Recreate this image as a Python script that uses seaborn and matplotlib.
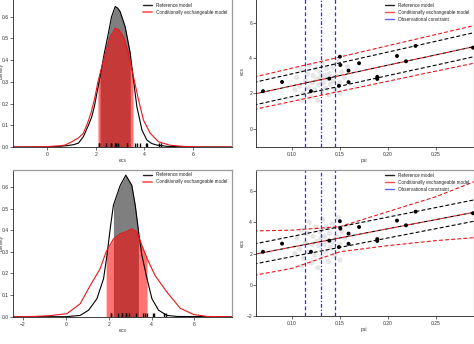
import numpy as np
import pandas as pd
import matplotlib
matplotlib.use("Agg")
import matplotlib.pyplot as plt
import seaborn as sns
from matplotlib.lines import Line2D

sns.set_theme(style="white")
plt.rcParams["font.family"] = ["Liberation Sans", "DejaVu Sans"]

# ---- model ensemble (psi, ecs) ----
model_psi = [0.0697, 0.0896, 0.1198, 0.139, 0.150, 0.1505, 0.149, 0.159,
             0.159, 0.170, 0.189, 0.189, 0.2096, 0.219, 0.229, 0.289]
model_ecs = [2.12, 2.64, 2.12, 2.83, 4.07, 3.60, 2.42, 3.28,
             2.63, 3.70, 2.93, 2.81, 4.11, 3.81, 4.68, 4.58]

# observational constraint on psi (lower, best, upper)
obs_psi = [0.114, 0.130, 0.145]

# posterior draws around the constraint (upper and lower rows)
cloud_psi = [0.105, 0.108, 0.110, 0.112, 0.114, 0.116, 0.117, 0.118, 0.120, 0.121,
             0.122, 0.124, 0.125, 0.126, 0.127, 0.128, 0.129, 0.130, 0.131, 0.132,
             0.133, 0.134, 0.135, 0.136, 0.137, 0.138, 0.139, 0.140, 0.142, 0.143,
             0.145, 0.146, 0.148, 0.150, 0.152, 0.155, 0.158, 0.103, 0.110, 0.150]
cloud_ecs_top = [2.9, 2.4, 3.3, 2.0, 2.7, 3.1, 2.3, 3.6, 1.8, 2.6,
                 3.0, 2.2, 3.4, 2.8, 1.6, 2.5, 3.2, 2.9, 2.1, 3.7,
                 2.6, 3.0, 2.3, 3.4, 2.8, 1.9, 3.1, 2.5, 3.5, 2.7,
                 2.2, 3.0, 3.8, 2.6, 3.2, 2.9, 3.5, 2.2, 1.6, 2.0]
cloud_ecs_bot = [3.0, 2.3, 3.5, 1.7, 2.7, 3.3, 2.1, 4.0, 1.4, 2.6,
                 3.1, 1.9, 3.7, 2.8, 1.1, 2.5, 3.4, 3.0, 1.8, 4.2,
                 2.6, 3.1, 2.1, 3.7, 2.8, 1.5, 3.3, 2.4, 3.9, 2.7,
                 1.9, 3.1, 4.3, 2.6, 3.4, 3.0, 3.8, 2.0, 1.2, 1.6]

# ---- posterior ecs densities, upper row ----
top_ref_x = [-1.5, -0.5, 0.0, 0.5, 0.81, 1.1, 1.29, 1.49, 1.70, 1.84, 1.95, 2.05,
             2.18, 2.35, 2.52, 2.65, 2.80, 2.90, 3.0, 3.21, 3.42, 3.55, 3.69,
             3.90, 4.10, 4.30, 4.51, 4.93, 5.5, 6.0, 7.8]
top_ref_y = [0, 0, 0.001, 0.003, 0.006, 0.011, 0.018, 0.047, 0.10, 0.14, 0.19, 0.25,
             0.324, 0.43, 0.524, 0.60, 0.647, 0.64, 0.624, 0.554, 0.43, 0.31, 0.186,
             0.078, 0.032, 0.016, 0.009, 0.003, 0.001, 0, 0]
top_ce_x = [-1.5, -0.5, 0.0, 0.5, 0.74, 1.02, 1.15, 1.29, 1.49, 1.66, 1.80, 1.95,
            2.09, 2.32, 2.59, 2.80, 2.95, 3.14, 3.35, 3.55, 3.76, 3.96, 4.24,
            4.58, 5.06, 5.7, 6.5, 7.8]
top_ce_y = [0, 0.001, 0.002, 0.005, 0.009, 0.024, 0.033, 0.042, 0.063, 0.109, 0.155, 0.22,
            0.30, 0.40, 0.508, 0.547, 0.54, 0.508, 0.43, 0.324, 0.217, 0.124, 0.063,
            0.024, 0.008, 0.002, 0, 0]
top_ref_int = (2.18, 3.42)
top_ce_int = (2.09, 3.53)

# ---- posterior ecs densities, lower row ----
bot_ref_x = [-2.5, 0.0, 0.67, 1.06, 1.45, 1.76, 1.92, 2.07, 2.22, 2.54, 2.80, 3.08,
             3.24, 3.39, 3.55, 3.79, 4.02, 4.33, 4.72, 5.2, 7.8]
bot_ref_y = [0, 0, 0.006, 0.03, 0.083, 0.176, 0.284, 0.407, 0.516, 0.608, 0.655, 0.608,
             0.516, 0.398, 0.284, 0.176, 0.083, 0.03, 0.006, 0.001, 0]
bot_ce_x = [-2.5, -1.5, -0.73, 0.05, 0.67, 1.14, 1.60, 1.88, 2.22, 2.54, 2.85, 3.08,
            3.32, 3.55, 3.79, 4.17, 4.72, 5.34, 5.97, 6.6, 7.8]
bot_ce_y = [0, 0.001, 0.005, 0.014, 0.06, 0.145, 0.222, 0.30, 0.36, 0.384, 0.395, 0.407,
            0.392, 0.33, 0.27, 0.19, 0.114, 0.039, 0.01, 0.001, 0]
bot_ref_int = (2.22, 3.39)
bot_ce_int = (1.88, 3.79)

# ---- emergent-constraint regression lines ----
band_psi = [0.06, 0.10, 0.15, 0.20, 0.25, 0.29]
fit_mid = [1.95, 2.42, 3.00, 3.59, 4.17, 4.64]
ref_hi = [2.61, 3.10, 3.72, 4.33, 4.94, 5.43]
ref_lo = [1.33, 1.81, 2.40, 3.00, 3.59, 4.07]
top_ce_hi = [2.91, 3.42, 4.05, 4.69, 5.32, 5.83]
top_ce_lo = [1.08, 1.54, 2.11, 2.68, 3.25, 3.70]
bot_ce_hi = [3.45, 3.50, 3.72, 4.68, 5.63, 6.59]
bot_ce_lo = [0.61, 1.06, 2.12, 2.51, 2.83, 3.02]

RED = "#e8161b"
BLUE = "#2b2bff"
FS = 3.6

fig = plt.figure(figsize=(4.74, 3.44), dpi=100)
W, H = 474.0, 344.0


def add_axes(x0, x1, ytop, ybot):
    return fig.add_axes([x0 / W, 1 - ybot / H, (x1 - x0) / W, (ybot - ytop) / H])


ax_tl = add_axes(13, 232, -5, 147)
ax_bl = add_axes(13, 232, 170, 316.7)
ax_tr = add_axes(256, 473.5, -5, 147)
ax_br = add_axes(256, 473.5, 170, 316.3)


def style(ax):
    for side in ("top", "right"):
        ax.spines[side].set_color("#9a9a9a")
        ax.spines[side].set_linewidth(0.9)
    for side in ("left", "bottom"):
        ax.spines[side].set_color("#222222")
        ax.spines[side].set_linewidth(0.6)
    ax.tick_params(bottom=True, left=True, direction="out", length=2, width=0.5,
                   pad=0.7, labelsize=FS, colors="#333333")
    ax.tick_params(axis="x", pad=1.6)
    ax.grid(False)


def shade(ax, xs, ys, interval, color, alpha):
    xs = np.asarray(xs, float)
    ys = np.asarray(ys, float)
    lo, hi = interval
    inside = (xs > lo) & (xs < hi)
    px = np.concatenate([[lo], xs[inside], [hi]])
    py = np.concatenate([[np.interp(lo, xs, ys)], ys[inside], [np.interp(hi, xs, ys)]])
    ax.fill_between(px, py, 0, color=color, alpha=alpha, lw=0)


def density_panel(ax, rx, ry, cx, cy, rint, cint, xlim, ylim, xticks):
    shade(ax, rx, ry, rint, "black", 0.5)
    shade(ax, cx, cy, cint, "red", 0.55)
    sns.lineplot(x=rx, y=ry, ax=ax, color="black", lw=0.8, sort=False)
    sns.lineplot(x=cx, y=cy, ax=ax, color=RED, lw=0.8, sort=False)
    sns.rugplot(x=model_ecs, ax=ax, height=0.026, color="black", lw=0.6)
    ax.set_xlim(*xlim)
    ax.set_ylim(*ylim)
    ax.set_xticks(xticks)
    ax.set_yticks([0, 0.1, 0.2, 0.3, 0.4, 0.5, 0.6])
    ax.set_yticklabels(["0.0", "0.1", "0.2", "0.3", "0.4", "0.5", "0.6"])
    ax.set_xlabel("ecs", fontsize=FS, color="#333333")
    ax.set_ylabel("Density", fontsize=3.4, color="#333333")
    ax.yaxis.set_label_coords(-0.041, 0.5)
    style(ax)
    handles = [Line2D([], [], color="#222222", lw=1.0),
               Line2D([], [], color="#ff6b6b", lw=1.4)]
    return handles


def constraint_panel(ax, cloud_ecs, ce_hi, ce_lo, xlim, ylim, yticks):
    sns.scatterplot(x=cloud_psi, y=cloud_ecs, ax=ax, color="#c8c8c8", alpha=0.45,
                    s=14, edgecolor="none", zorder=1)
    for p, ls in zip(obs_psi, [(0, (3.0, 2.0)), (0, (3.0, 1.5, 1.0, 1.5)), (0, (3.0, 2.0))]):
        ax.axvline(p, color=BLUE, lw=0.9, ls=ls)
    dash = (0, (3.5, 2.0))
    ax.plot(band_psi, ce_hi, color=RED, lw=0.8, ls=dash)
    ax.plot(band_psi, ce_lo, color=RED, lw=0.8, ls=dash)
    ax.plot(band_psi, ref_hi, color="black", lw=0.8, ls=dash)
    ax.plot(band_psi, ref_lo, color="black", lw=0.8, ls=dash)
    # shared best-fit line, drawn in both colours with alternating dashes
    ax.plot(band_psi, fit_mid, color="black", lw=0.8, ls=(0, (3.0, 3.0)))
    ax.plot(band_psi, fit_mid, color=RED, lw=0.8, ls=(3.0, (3.0, 3.0)))
    sns.scatterplot(x=model_psi, y=model_ecs, ax=ax, color="black", s=8,
                    edgecolor="none", zorder=5)
    ax.set_xlim(*xlim)
    ax.set_ylim(*ylim)
    ax.set_xticks([0.10, 0.15, 0.20, 0.25])
    ax.set_xticklabels(["0.10", "0.15", "0.20", "0.25"])
    ax.set_yticks(yticks)
    ax.set_xlabel("psi", fontsize=FS, color="#333333")
    ax.set_ylabel("ecs", fontsize=FS, color="#333333")
    ax.yaxis.set_label_coords(-0.05, 0.5)
    style(ax)
    handles = [Line2D([], [], color="#222222", lw=1.0),
               Line2D([], [], color="#ff5050", lw=1.0),
               Line2D([], [], color="#6464ff", lw=1.0)]
    return handles


leg_kw = dict(loc="upper left", frameon=False, fontsize=3.3, handlelength=1.9,
              handletextpad=0.9, labelspacing=0.45, borderpad=0, borderaxespad=0,
              labelcolor="#222222")

h = density_panel(ax_tl, top_ref_x, top_ref_y, top_ce_x, top_ce_y, top_ref_int, top_ce_int,
                  (-1.4, 7.6), (0, 0.7), [0, 2, 4, 6])
ax_tl.xaxis.set_label_coords(0.5, -0.075)
ax_tl.legend(h, ["Reference model", "Conditionally exchangeable model"],
             bbox_to_anchor=(0.594, 0.948), **leg_kw)

h = density_panel(ax_bl, bot_ref_x, bot_ref_y, bot_ce_x, bot_ce_y, bot_ref_int, bot_ce_int,
                  (-2.47, 7.76), (0, 0.679), [-2, 0, 2, 4, 6])
ax_bl.xaxis.set_label_coords(0.5, -0.075)
ax_bl.legend(h, ["Reference model", "Conditionally exchangeable model"],
             bbox_to_anchor=(0.595, 0.985), **leg_kw)

h = constraint_panel(ax_tr, cloud_ecs_top, top_ce_hi, top_ce_lo, (0.0624, 0.2895),
                     (-1.04, 7.56), [0, 2, 4, 6])
ax_tr.xaxis.set_label_coords(0.495, -0.075)
ax_tr.legend(h, ["Reference model", "Conditionally exchangeable model", "Observational constraint"],
             bbox_to_anchor=(0.593, 0.948), **leg_kw)

h = constraint_panel(ax_br, cloud_ecs_bot, bot_ce_hi, bot_ce_lo, (0.0624, 0.2895),
                     (-2.0, 7.34), [-2, 0, 2, 4, 6])
ax_br.xaxis.set_label_coords(0.495, -0.075)
ax_br.legend(h, ["Reference model", "Conditionally exchangeable model", "Observational constraint"],
             bbox_to_anchor=(0.594, 0.98), **leg_kw)

fig.savefig("out.png", dpi=100)
